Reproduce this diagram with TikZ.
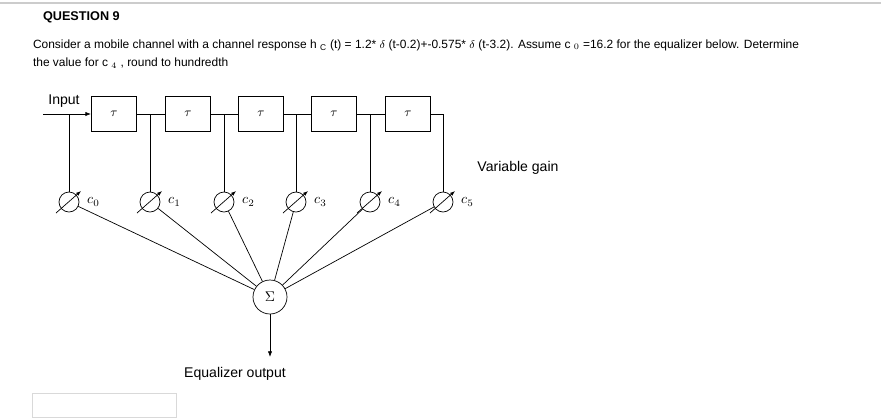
\documentclass[tikz,border=0pt]{standalone}
\usepackage{fontspec}
\setmainfont{Liberation Sans}
\usetikzlibrary{arrows.meta}
\tikzset{
  delay/.style={draw,minimum width=1.13cm,minimum height=0.87cm,inner sep=0pt,font=\small},
  gain/.style={draw,circle,minimum size=0.5cm,inner sep=0pt},
  tap/.style={line width=0.5pt}
}
\begin{document}
\begin{tikzpicture}[x=0.025cm,y=-0.025cm,line width=0.5pt]
  \useasboundingbox (0,0) rectangle (881,417);
  \draw[gray!40,line width=1pt] (0,3) -- (881,3);
  \node[anchor=west,font=\bfseries\small] (q) at (38,17) {QUESTION 9};
  \node[anchor=west,font=\fontsize{8.5}{10}\selectfont] (l1) at (28,45) {Consider a mobile channel with a channel response h $_{\mathrm{C}}$ (t) = 1.2* $\delta$ (t-0.2)+-0.575* $\delta$ (t-3.2). Assume c $_{0}$ =16.2 for the equalizer below. Determine};
  \node[anchor=west,font=\fontsize{8.5}{10}\selectfont] (l2) at (28,63) {the value for c $_{4}$ , round to hundredth};
  % delay line
  \node (in) at (64,101) {Input};
  \coordinate (s) at (43,114);
  \node[delay] (d1) at (114,114) {$\tau$};
  \node[delay] (d2) at (188,114) {$\tau$};
  \node[delay] (d3) at (261,114) {$\tau$};
  \node[delay] (d4) at (334,114) {$\tau$};
  \node[delay] (d5) at (408,114) {$\tau$};
  \coordinate (e) at (443,114);
  \draw[-{Latex[length=4pt]}] (s) -- (d1);
  \foreach \a/\b in {d1/d2,d2/d3,d3/d4,d4/d5} \draw (\a) -- (\b);
  \draw (d5.east) -- (e);
  % taps and gains
  \node (sum) [draw,circle,minimum size=0.85cm,inner sep=0pt] at (270,297) {$\Sigma$};
  \foreach \i/\x in {0/69,1/150,2/224,3/296,4/370,5/443} {
    \coordinate (t\i) at (\x,114);
    \node[gain] (g\i) at (\x,202) {};
    \draw (t\i) -- (g\i);
    \draw[-{Latex[length=3.5pt]}] ([shift={(-13,11)}]g\i.center) -- ([shift={(12,-11)}]g\i.center);
    \node[anchor=west] (c\i) at ([xshift=2]g\i.east) {$c_{\i}$};
    \draw (g\i) -- (sum);
  }
  \node (vg) at (518,168) {Variable gain};
  \coordinate (o) at (270,357);
  \draw[-{Latex[length=4pt]}] (sum) -- (o);
  \node (out) at (235,374) {Equalizer output};
  \draw[gray!30] (32,393) rectangle (176,417);
\end{tikzpicture}
\end{document}
